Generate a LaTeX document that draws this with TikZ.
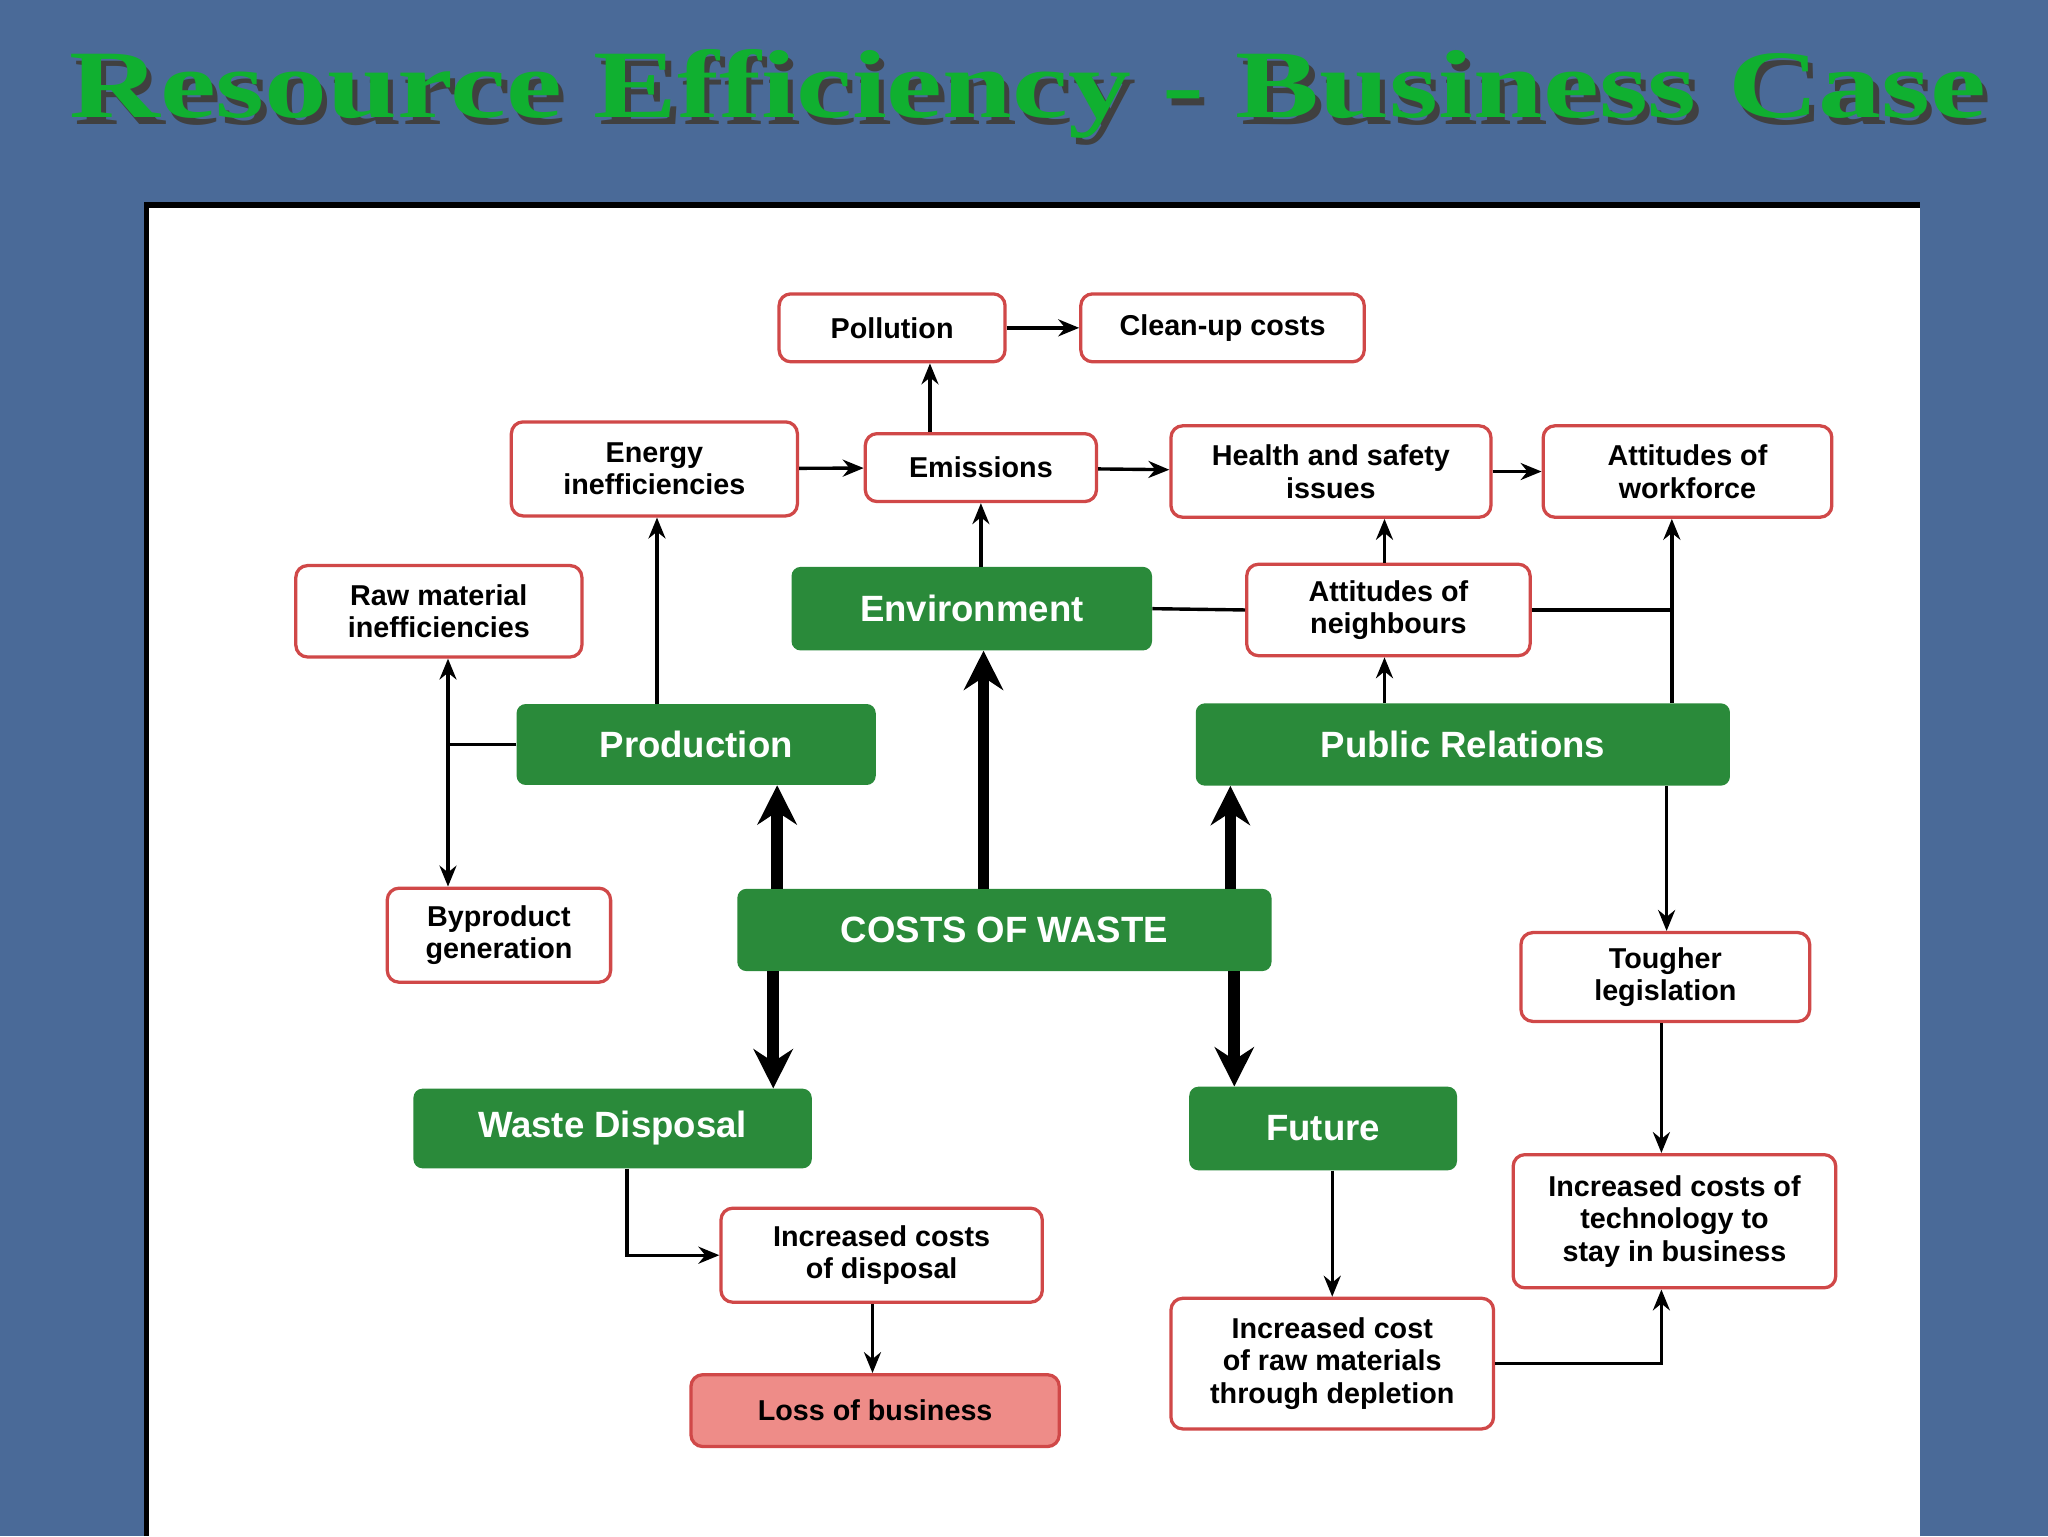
\documentclass[tikz,border=0pt]{standalone}
\usepackage{fontspec}
\setmainfont{Liberation Sans}
\newfontfamily\titlefont{Liberation Serif}
\usetikzlibrary{arrows.meta}
\definecolor{bg}{HTML}{4A6A98}
\definecolor{ttl}{HTML}{10B030}
\definecolor{gbox}{HTML}{2A8A3A}
\definecolor{rbord}{HTML}{D04848}
\definecolor{lossfill}{HTML}{EE8C88}
\tikzset{
 rbox/.style={draw=rbord, line width=2.5pt, rounded corners=9pt, fill=white, align=center, inner sep=0pt, font=\bfseries\fontsize{22}{25}\selectfont},
 gbox/.style={fill=gbox, rounded corners=7pt, text=white, align=center, inner sep=0pt, font=\bfseries\fontsize{28}{32}\selectfont},
 arr/.style={line width=2.6pt, -{Stealth[length=16pt,width=13pt]}},
 ln/.style={line width=2.6pt},
 thick arr/.style={line width=9pt, -{Stealth[length=30pt,width=30pt]}},
 ttlstyle/.style={font=\titlefont\bfseries\fontsize{74}{80}\selectfont, xscale=1.3},
}
\begin{document}
\begin{tikzpicture}[x=1pt,y=-1pt]
\fill[bg] (0,0) rectangle (1568,1176);
\useasboundingbox (0,0) rectangle (1568,1176);
\fill[white] (110,155) rectangle (1470,1176);
\draw[line width=4pt] (112,1176) -- (112,157) -- (1470,157);
\node[ttlstyle, text=black!75] (tshadow) at (791,77) {Resource Efficiency - Business Case};
\node[ttlstyle, text=ttl] (title) at (787,72) {Resource Efficiency - Business Case};
% boxes
\node[rbox, minimum width=173pt, minimum height=52pt] (pol) at (683,251) {Pollution};
\node[rbox, minimum width=217pt, minimum height=52pt] (clean) at (936,251) {Clean-up costs};
\node[rbox, minimum width=219pt, minimum height=72pt] (energy) at (501,359) {Energy\\inefficiencies};
\node[rbox, minimum width=177pt, minimum height=52pt] (emis) at (751,358) {Emissions};
\node[rbox, minimum width=245pt, minimum height=70pt] (health) at (1019,361) {Health and safety\\issues};
\node[rbox, minimum width=221pt, minimum height=70pt] (work) at (1292,361) {Attitudes of\\workforce};
\node[rbox, minimum width=219pt, minimum height=70pt] (raw) at (336,468) {Raw material\\inefficiencies};
\node[gbox, minimum width=276pt, minimum height=64pt] (env) at (744,466) {Environment};
\node[rbox, minimum width=217pt, minimum height=70pt] (neigh) at (1063,467) {Attitudes of\\neighbours};
\node[gbox, minimum width=275pt, minimum height=62pt] (prod) at (533,570) {Production};
\node[gbox, minimum width=409pt, minimum height=63pt] (pr) at (1120,570) {Public Relations};
\node[rbox, minimum width=171pt, minimum height=72pt] (byp) at (382,716) {Byproduct\\generation};
\node[gbox, minimum width=409pt, minimum height=63pt] (cost) at (769,712) {COSTS OF WASTE};
\node[rbox, minimum width=221pt, minimum height=68pt] (tough) at (1275,748) {Tougher\\legislation};
\node[gbox, minimum width=305pt, minimum height=61pt] (wd) at (469,864) {Waste Disposal};
\node[gbox, minimum width=205pt, minimum height=64pt] (fut) at (1013,864) {Future};
\node[rbox, minimum width=247pt, minimum height=102pt] (tech) at (1282,935) {Increased costs of\\technology to\\stay in business};
\node[rbox, minimum width=246pt, minimum height=72pt] (disp) at (675,961) {Increased costs\\of disposal};
\node[rbox, minimum width=247pt, minimum height=100pt] (rawm) at (1020,1044) {Increased cost\\of raw materials\\through depletion};
\node[rbox, fill=lossfill, minimum width=282pt, minimum height=55pt] (loss) at (670,1080) {Loss of business};
% thin connectors
\draw[arr] (pol) -- (clean);
\draw[arr] (emis.north -| 712,0) -- (pol.south -| 712,0);
\draw[arr] (energy) -- (emis);
\draw[arr] (emis) -- (health);
\draw[arr] (health) -- (work);
\draw[arr] (env.north -| 751,0) -- (emis.south -| 751,0);
\draw[arr] (prod.north -| 503,0) -- (energy.south -| 503,0);
\coordinate (pj) at (343,570);
\draw[ln] (prod.west) -- (pj);
\draw[arr] (pj) -- (raw.south -| pj);
\draw[arr] (pj) -- (byp.north -| pj);
\draw[ln] (env.east) -- (neigh.west);
\coordinate (wj) at (1280,467);
\draw[ln] (neigh.east) -- (wj);
\draw[arr] (pr.north -| wj) -- (work.south -| wj);
\draw[arr] (pr.north -| 1060,0) -- (neigh.south -| 1060,0);
\draw[arr] (neigh.north -| 1060,0) -- (health.south -| 1060,0);
\draw[arr] (pr.south -| 1276,0) -- (tough.north -| 1276,0);
\draw[arr] (tough.south -| 1272,0) -- (tech.north -| 1272,0);
\draw[arr] (wd.south -| 480,0) |- (disp.west);
\draw[arr] (disp.south -| 668,0) -- (loss.north -| 668,0);
\draw[arr] (fut.south -| 1020,0) -- (rawm.north -| 1020,0);
\draw[arr] (rawm.east) -| (tech.south -| 1272,0);
% thick connectors
\draw[thick arr] (cost.north -| 595,0) -- (prod.south -| 595,0);
\draw[thick arr] (cost.north -| 753,0) -- (env.south -| 753,0);
\draw[thick arr] (cost.north -| 942,0) -- (pr.south -| 942,0);
\draw[thick arr] (cost.south -| 592,0) -- (wd.north -| 592,0);
\draw[thick arr] (cost.south -| 945,0) -- (fut.north -| 945,0);
\end{tikzpicture}
\end{document}
